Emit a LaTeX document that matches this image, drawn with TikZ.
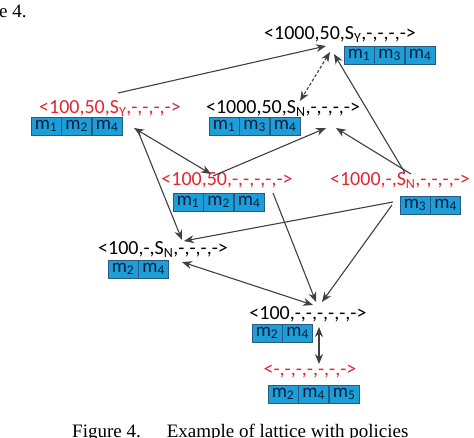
\documentclass[tikz,border=0pt]{standalone}
\usepackage{fontspec}
\setmainfont{Liberation Serif}
\newfontfamily\calib{Carlito}
\usetikzlibrary{arrows.meta}
\definecolor{lbred}{RGB}{228,38,48}
\definecolor{cellfill}{RGB}{30,158,216}
\definecolor{cellborder}{RGB}{40,90,130}
\definecolor{celltext}{RGB}{10,30,60}
\definecolor{linegray}{RGB}{64,64,64}
\tikzset{
  lbl/.style={font=\calib\fontsize{20}{24}\selectfont, inner sep=0pt, text=black},
  redlbl/.style={lbl, text=lbred},
  cell/.style={draw=cellborder, line width=0.6pt, fill=cellfill, minimum width=30pt, minimum height=18pt,
    inner sep=0pt, font=\calib\fontsize{19}{20}\selectfont, text=celltext},
  cellr/.style={cell, anchor=west},
  conn/.style={draw=linegray, line width=1.1pt, -{Stealth[length=10pt,width=8pt]}},
  biconn/.style={draw=linegray, line width=1.1pt, {Stealth[length=10pt,width=8pt]}-{Stealth[length=10pt,width=8pt]}},
}
\begin{document}
\begin{tikzpicture}[x=1pt,y=-1pt]
\useasboundingbox (0,0) rectangle (474,437);
\clip (0,0) rectangle (474,437);
\fill[white] (0,0) rectangle (474,437);

% top-left fragment and caption
\node[font=\fontsize{19}{22}\selectfont, inner sep=0pt, anchor=base west] (topfrag) at (-1,17) {e 4.};
\node[font=\fontsize{19}{22}\selectfont, inner sep=0pt, anchor=base west] (caption) at (72,437) {Figure 4.\hspace{26pt}Example of lattice with policies};

% labels
\node[lbl] (At) at (340,34.5) {<1000,50,S\textsubscript{Y},-,-,-,->};
\node[redlbl] (Bt) at (110,108.5) {<100,50,S\textsubscript{Y},-,-,-,->};
\node[lbl] (Ct) at (283,108.5) {<1000,50,S\textsubscript{N},-,-,-,->};
\node[redlbl] (Dt) at (227,180.5) {<100,50,-,-,-,-,->};
\node[redlbl] (Et) at (400,180.5) {<1000,-,S\textsubscript{N},-,-,-,->};
\node[lbl] (Ft) at (163,249.5) {<100,-,S\textsubscript{N},-,-,-,->};
\node[lbl] (Gt) at (308,314.5) {<100,-,-,-,-,-,->};
\node[redlbl] (Ht) at (310,372) {<-,-,-,-,-,-,->};

% boxes
\node[cell] (A1) at (359,55) {m\textsubscript{1}};
\node[cellr] (A2) at (A1.east) {m\textsubscript{3}};
\node[cellr] (A3) at (A2.east) {m\textsubscript{4}};

\node[cell] (B1) at (46,126) {m\textsubscript{1}};
\node[cellr] (B2) at (B1.east) {m\textsubscript{2}};
\node[cellr] (B3) at (B2.east) {m\textsubscript{4}};

\node[cell] (C1) at (224,126) {m\textsubscript{1}};
\node[cellr] (C2) at (C1.east) {m\textsubscript{3}};
\node[cellr] (C3) at (C2.east) {m\textsubscript{4}};

\node[cell] (D1) at (188,202) {m\textsubscript{1}};
\node[cellr] (D2) at (D1.east) {m\textsubscript{2}};
\node[cellr] (D3) at (D2.east) {m\textsubscript{4}};

\node[cell] (E1) at (415,205) {m\textsubscript{3}};
\node[cellr] (E2) at (E1.east) {m\textsubscript{4}};

\node[cell] (F1) at (123,269) {m\textsubscript{2}};
\node[cellr] (F2) at (F1.east) {m\textsubscript{4}};

\node[cell] (G1) at (267,333) {m\textsubscript{2}};
\node[cellr] (G2) at (G1.east) {m\textsubscript{4}};

\node[cell] (H1) at (283,394) {m\textsubscript{2}};
\node[cellr] (H2) at (H1.east) {m\textsubscript{4}};
\node[cellr] (H3) at (H2.east) {m\textsubscript{5}};

% connector end points
\coordinate (aB) at (326,46);
\coordinate (aC) at (330,52);
\coordinate (aE) at (334,54);
\coordinate (bA) at (118,93);
\coordinate (bD) at (134,128);
\coordinate (bF) at (138,131);
\coordinate (cA) at (300,101);
\coordinate (cD) at (326,128);
\coordinate (cE) at (336,128);
\coordinate (dB) at (211,174);
\coordinate (dC) at (213,176);
\coordinate (dG) at (273,193);
\coordinate (eA) at (405,173);
\coordinate (eC) at (411,174);
\coordinate (eF) at (393,202);
\coordinate (eG) at (392,205);
\coordinate (fB) at (182,240);
\coordinate (fE) at (184,241);
\coordinate (fG) at (182,262);
\coordinate (gD) at (316,302);
\coordinate (gE) at (322,302);
\coordinate (gF) at (313,305);
\coordinate (gH) at (319,327);
\coordinate (hG) at (319,364);

% connectors
\draw[conn] (bA) -- (aB);
\draw[biconn, densely dashed] (aC) -- (cA);
\draw[conn] (eA) -- (aE);
\draw[conn] (eC) -- (cE);
\draw[conn] (dC) -- (cD);
\draw[biconn] (bD) -- (dB);
\draw[conn] (bF) -- (fB);
\draw[conn] (eF) -- (fE);
\draw[conn] (dG) -- (gD);
\draw[conn] (eG) -- (gE);
\draw[biconn] (fG) -- (gF);
\draw[biconn] (gH) -- (hG);
\end{tikzpicture}
\end{document}
